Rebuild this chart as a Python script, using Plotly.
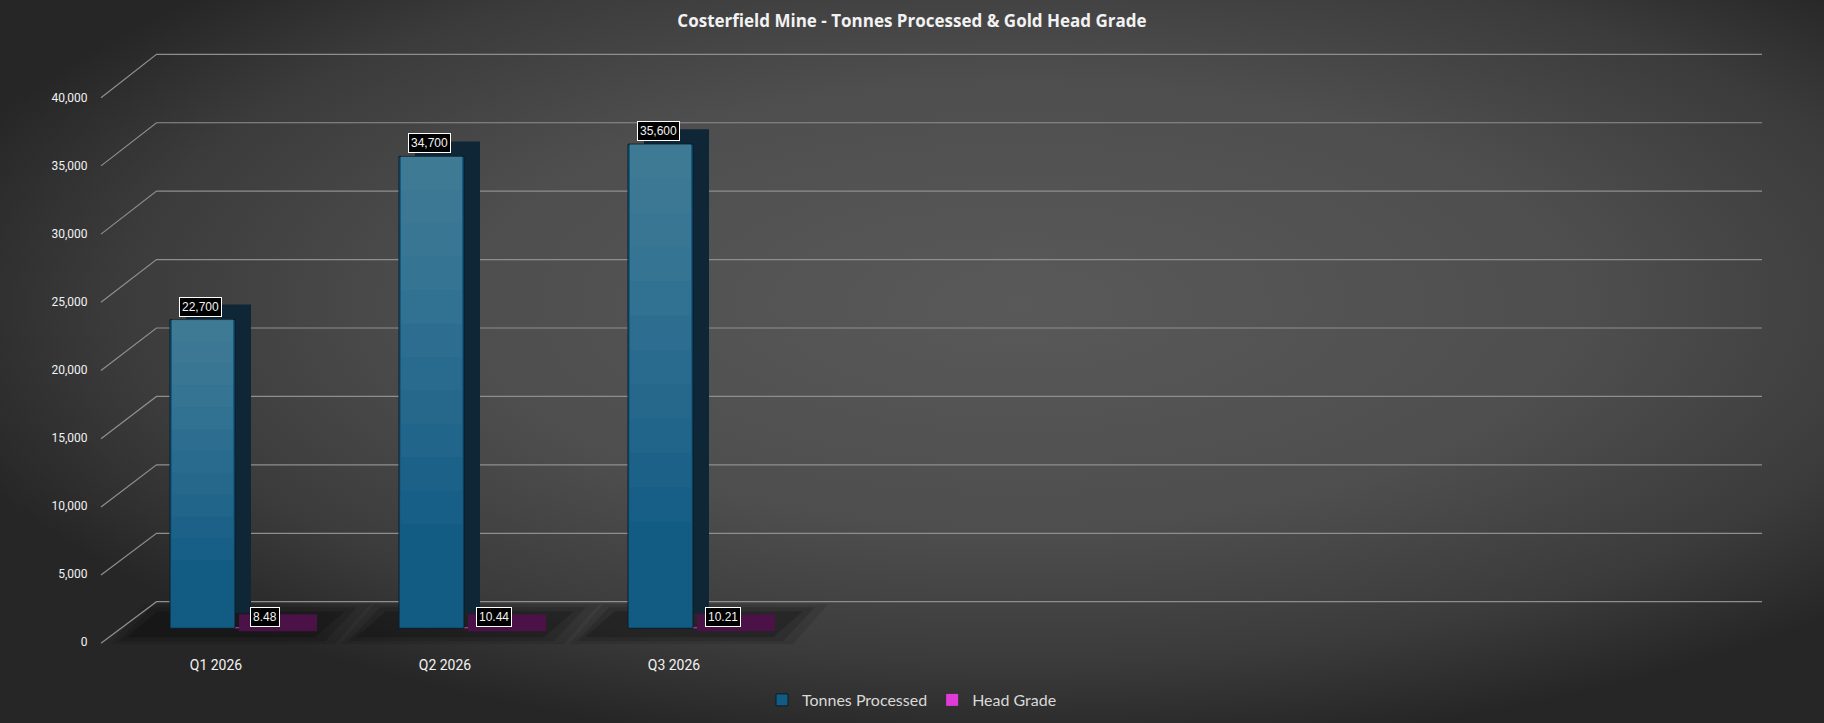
import base64
import plotly.graph_objects as go

# ── Data ─────────────────────────────────────────────────────────────────────
QUARTERS = ["Q1 2026", "Q2 2026", "Q3 2026"]
TONNES = [22700, 34700, 35600]          # tonnes processed
GRADE = [8.48, 10.44, 10.21]            # gold head grade (g/t), same axis
Y_TICKS = [0, 5000, 10000, 15000, 20000, 25000, 30000, 35000, 40000]
N_SLOTS = 7                             # category slots on the axis (4 empty)

W, H = 1824, 723
FONT = "Roboto, 'Liberation Sans', Arial, sans-serif"

# bar plane geometry in pixels (0 at PB, 40,000 at PT; slots between PL..PR)
PL, PR = 120.5, 1723.5
PB, PT = 628.3, 84.3
CAT_PX = (PR - PL) / N_SLOTS
UNIT_PER_PX = 40000 / (PB - PT)

# extra room round the bar plane so the 3D wall/floor lines are not clipped
PAD_L, PAD_R, PAD_B, PAD_T = 30, 50, 24, 40
X_RANGE = [-0.5 - PAD_L / CAT_PX, N_SLOTS - 0.5 + PAD_R / CAT_PX]
Y_RANGE = [-PAD_B * UNIT_PER_PX, 40000 + PAD_T * UNIT_PER_PX]
X_DOMAIN = [(PL - PAD_L) / W, (PR + PAD_R) / W]
Y_DOMAIN = [1 - (PB + PAD_B) / H, 1 - (PT - PAD_T) / H]

BAR_W = 65 / CAT_PX                     # width of one bar in category units
DEPTH_X = 16 / CAT_PX                   # 3D depth shift of a bar
DEPTH_Y = 15 * UNIT_PER_PX

C_FRONT = "#125c84"
C_SIDE = "#0e2636"
C_GRADE = "#e03ad8"
C_GRADE_TOP = "#4a1246"
SHADE_STEPS = 12                        # steps of the light fade on the bar face

# ── Background (radial gradient like Excel's dark style) ─────────────────────
svg = (
    f'<svg xmlns="http://www.w3.org/2000/svg" width="{W}" height="{H}">'
    '<defs><radialGradient id="g" cx="0.56" cy="0.42" r="0.62">'
    '<stop offset="0" stop-color="#595959"/>'
    '<stop offset="0.5" stop-color="#4e4e4e"/>'
    '<stop offset="0.8" stop-color="#3b3b3b"/>'
    '<stop offset="1" stop-color="#262626"/>'
    '</radialGradient></defs>'
    f'<rect width="{W}" height="{H}" fill="url(#g)"/></svg>'
)
BG_URI = "data:image/svg+xml;base64," + base64.b64encode(svg.encode()).decode()

fig = go.Figure()

# head grade: front face (tiny on the tonnes scale, covered by its top face)
fig.add_trace(go.Bar(
    x=QUARTERS, y=GRADE, name="Head Grade", legendrank=2,
    offset=0, width=BAR_W,
    marker=dict(color=C_GRADE, line=dict(width=0)),
))

# head grade: flat top face
fig.add_trace(go.Bar(
    x=QUARTERS, y=[17 * UNIT_PER_PX] * len(GRADE),
    base=[g - 3 * UNIT_PER_PX for g in GRADE],
    offset=4 / CAT_PX, width=78 / CAT_PX,
    marker=dict(color=C_GRADE_TOP, line=dict(width=0)),
    showlegend=False, hoverinfo="skip",
))

# tonnes: side / top depth face
fig.add_trace(go.Bar(
    x=QUARTERS, y=TONNES, base=DEPTH_Y,
    offset=-BAR_W + DEPTH_X, width=BAR_W,
    marker=dict(color=C_SIDE, line=dict(width=0)),
    showlegend=False, hoverinfo="skip",
))

# tonnes: front face
fig.add_trace(go.Bar(
    x=QUARTERS, y=TONNES, name="Tonnes Processed", legendrank=1,
    offset=-BAR_W, width=BAR_W,
    marker=dict(color=C_FRONT, line=dict(width=1, color="#0a1c28")),
))

# light fade towards the top of the front face
for k in range(1, SHADE_STEPS):
    f = 0.15 + 0.85 * k / SHADE_STEPS
    fig.add_trace(go.Bar(
        x=QUARTERS, y=[t * (1 - f) for t in TONNES], base=[t * f for t in TONNES],
        offset=-BAR_W + 2 / CAT_PX, width=BAR_W - 4 / CAT_PX,
        marker=dict(color="rgba(170,190,205,0.035)", line=dict(width=0)),
        showlegend=False, hoverinfo="skip",
    ))

# ── Floor shadows under each cluster ─────────────────────────────────────────
shapes = []
for q in QUARTERS:
    for (x0, x1, x2, x3, yb, yt, a) in [(-124, 100, 135, -90, -16, 24, 0.10),
                                        (-116, 90, 122, -84, -13, 21, 0.14),
                                        (-108, 80, 110, -78, -9, 17, 0.18)]:
        shapes.append(dict(
            type="path", xref="x", yref="y",
            xsizemode="pixel", ysizemode="pixel", xanchor=q, yanchor=0,
            path=f"M {x0},{yb} L {x1},{yb} L {x2},{yt} L {x3},{yt} Z",
            fillcolor=f"rgba(0,0,0,{a})", line=dict(width=0), layer="below",
        ))

# ── Back wall gridlines with the slanted side lines ──────────────────────────
for v in Y_TICKS:
    f = v / 40000
    front_dy = -(15 - 1.6 * f)
    back_dy = 26.6 + 3.4 * f
    shapes.append(dict(
        type="path", xref="x", yref="y",
        xsizemode="pixel", ysizemode="pixel", xanchor=-0.5, yanchor=v,
        path=f"M -19.5,{front_dy} L 36,{back_dy} L {1762 - PL},{back_dy}",
        line=dict(color="#8e8e8e", width=1.2), layer="below",
    ))

# ── Data labels ──────────────────────────────────────────────────────────────
LABEL_FONT = dict(family="'Liberation Sans', Arial", size=12, color="#f2f2f2")
annotations = []
for q, t in zip(QUARTERS, TONNES):
    annotations.append(dict(
        x=q, y=t, text=f"{t:,}", showarrow=False,
        xanchor="center", yanchor="bottom", xshift=-35, yshift=3,
        font=LABEL_FONT,
        bgcolor="#000000", bordercolor="#ffffff", borderwidth=1, borderpad=2,
    ))
for q, g in zip(QUARTERS, GRADE):
    annotations.append(dict(
        x=q, y=g, text=f"{g:.2f}", showarrow=False,
        xanchor="center", yanchor="bottom", xshift=30, yshift=1,
        font=LABEL_FONT,
        bgcolor="#000000", bordercolor="#ffffff", borderwidth=1, borderpad=2,
    ))

fig.update_layout(
    width=W, height=H,
    margin=dict(l=0, r=0, t=0, b=0),
    paper_bgcolor="#404040",
    plot_bgcolor="rgba(0,0,0,0)",
    images=[dict(source=BG_URI, xref="paper", yref="paper", x=0, y=1,
                 sizex=1, sizey=1, xanchor="left", yanchor="top",
                 sizing="stretch", layer="below")],
    barmode="overlay",
    title=dict(
        text="<b>Costerfield Mine - Tonnes Processed & Gold Head Grade</b>",
        font=dict(family="'Open Sans', sans-serif", size=17, color="#f2f2f2"),
        x=0.5, xanchor="center", y=1 - 21 / H, yanchor="middle", yref="container",
    ),
    xaxis=dict(
        domain=X_DOMAIN,
        type="category",
        categoryorder="array", categoryarray=QUARTERS,
        range=X_RANGE,
        showgrid=False, zeroline=False, showline=False, ticks="",
        tickfont=dict(family=FONT, size=14, color="#f2f2f2"),
        ticklabelshift=-19, ticklabelstandoff=27 - PAD_B,
    ),
    yaxis=dict(
        domain=Y_DOMAIN,
        range=Y_RANGE,
        tickvals=Y_TICKS, tickformat=",",
        showgrid=False, zeroline=False, showline=False, ticks="",
        tickfont=dict(family=FONT, size=12, color="#f2f2f2"),
        ticklabelshift=13, ticklabelstandoff=32 - PAD_L,
    ),
    legend=dict(
        orientation="h",
        x=0.5, xanchor="center", y=1 - 700 / H, yanchor="middle",
        font=dict(family="Lato, 'Open Sans', sans-serif", size=16, color="#d9d9d9"),
        bgcolor="rgba(0,0,0,0)",
        itemwidth=30,
        itemclick=False, itemdoubleclick=False,
    ),
    shapes=shapes,
    annotations=annotations,
    showlegend=True,
)

fig.write_html("out.html", config={"displayModeBar": False},
               post_script="document.body.style.margin='0px';")
